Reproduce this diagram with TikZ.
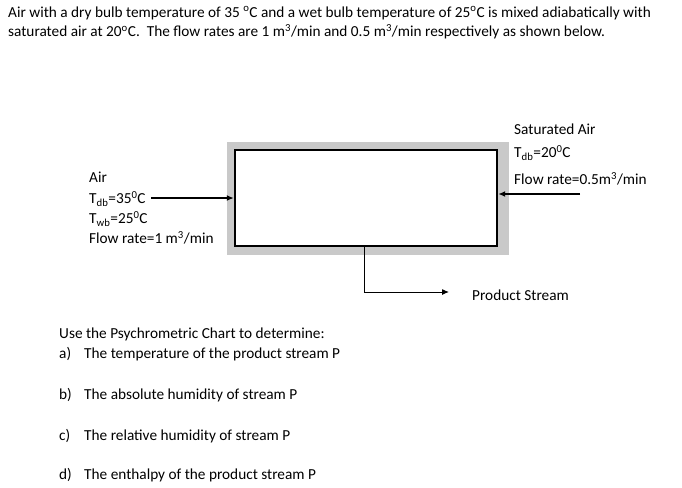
\documentclass[tikz,border=0pt]{standalone}
\usepackage{fontspec}
\setmainfont{Carlito}
\usetikzlibrary{arrows.meta}
\begin{document}
\begin{tikzpicture}[x=1pt,y=-1pt,
  txt/.style={anchor=west,inner sep=0pt,font=\fontsize{15.3}{18}\selectfont},
  flow/.style={line width=1.6pt,-{Latex[length=7pt,width=6pt]}},
  thin flow/.style={line width=1pt,-{Latex[length=7pt,width=6pt]}}]
\useasboundingbox (0,0) rectangle (682,487);
% mixing chamber
\node[fill=black!21,minimum width=282pt,minimum height=113pt,inner sep=0pt] (frame) at (368,198.5) {};
\node[draw,fill=white,line width=2.4pt,minimum width=262pt,minimum height=96pt,inner sep=0pt] (box) at (366,198) {};
% title
\node[txt] (t1) at (8,13) {Air with a dry bulb temperature of 35 \textsuperscript{o}C and a wet bulb temperature of 25\textsuperscript{o}C is mixed adiabatically with};
\node[txt] (t2) at (8,32) {saturated air at 20\textsuperscript{o}C.\ \ The flow rates are 1 m\textsuperscript{3}/min and 0.5 m\textsuperscript{3}/min respectively as shown below.};
% left stream
\node[txt] (l1) at (89,177) {Air};
\node[txt] (l2) at (89,199) {T\textsubscript{db}=35\textsuperscript{0}C};
\node[txt] (l3) at (89,219) {T\textsubscript{wb}=25\textsuperscript{0}C};
\node[txt] (l4) at (89,238) {Flow rate=1 m\textsuperscript{3}/min};
\coordinate (lin) at (151,198);
\draw[flow] (lin) -- (box.west |- lin);
% right stream
\node[txt] (r1) at (514,129) {Saturated Air};
\node[txt] (r2) at (514,153) {T\textsubscript{db}=20\textsuperscript{0}C};
\node[txt] (r3) at (514,179) {Flow rate=0.5m\textsuperscript{3}/min};
\coordinate (rin) at (580,194);
\draw[flow] (rin) -- (box.east |- rin);
% product
\coordinate (pc) at (364,292);
\coordinate (pe) at (449,292);
\draw[thin flow] (box.south -| pc) -- (pc) -- (pe);
\node[txt] (p) at (472,295) {Product Stream};
% questions
\node[txt] (q0) at (59,334) {Use the Psychrometric Chart to determine:};
\node[txt] (qa) at (59,354) {a)};
\node[txt] (qat) at (84,354) {The temperature of the product stream P};
\node[txt] (qb) at (59,395) {b)};
\node[txt] (qbt) at (84,395) {The absolute humidity of stream P};
\node[txt] (qc) at (59,436) {c)};
\node[txt] (qct) at (84,436) {The relative humidity of stream P};
\node[txt] (qd) at (59,475) {d)};
\node[txt] (qdt) at (84,475) {The enthalpy of the product stream P};
\end{tikzpicture}
\end{document}
